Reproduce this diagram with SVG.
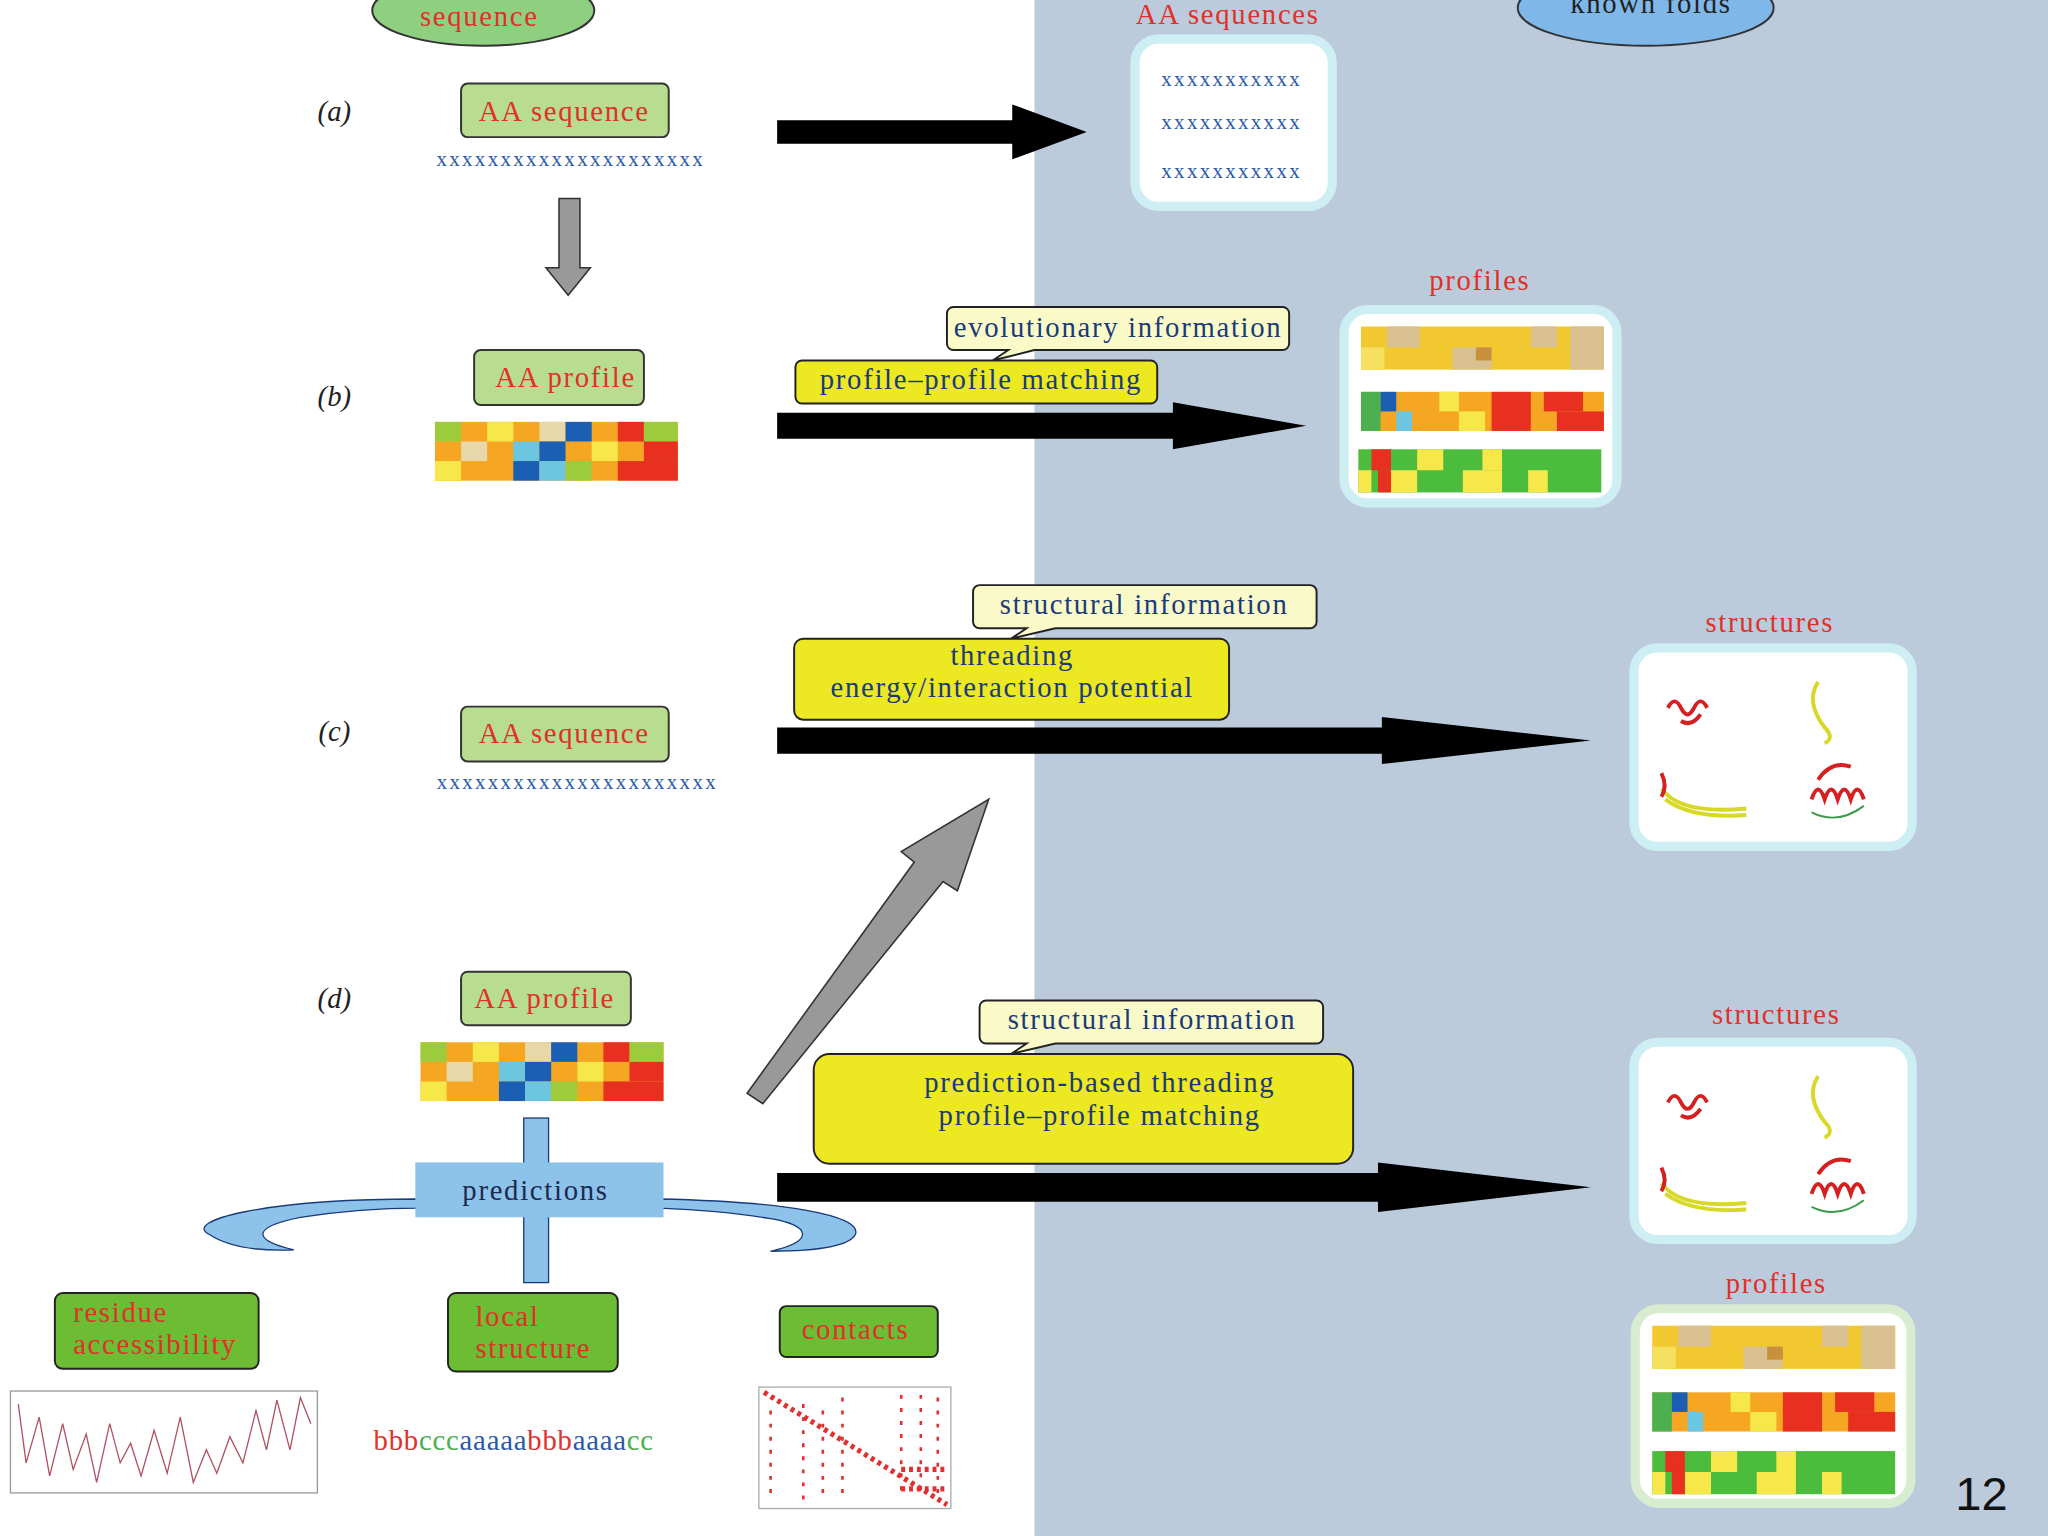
<svg xmlns="http://www.w3.org/2000/svg" width="2048" height="1536" viewBox="0 0 2048 1536">
<defs>
<style>
.t{font-family:"Liberation Serif",serif;font-size:22px;letter-spacing:1.3px;text-anchor:middle}
.r{fill:#e0302a}.b{fill:#1a3a78}
.lab{font-family:"Liberation Serif",serif;font-size:22px;font-style:italic;fill:#222;text-anchor:middle}
.xs{font-family:"Liberation Serif",serif;font-size:16px;letter-spacing:1.8px;fill:#2a5aa8;text-anchor:middle}
.lg{fill:#b8dc90;stroke:#333;stroke-width:1.5}
.dg{fill:#6cbc34;stroke:#222;stroke-width:1.5}
.py{fill:#fafac8;stroke:#222;stroke-width:1.5}
.yy{fill:#ece822;stroke:#222;stroke-width:1.5}
.wb{fill:#fff;stroke:#cdeff4;stroke-width:7}
.blk{fill:#000}
</style>
<g id="hmA">
<rect width="186" height="45" fill="#f5a623"/>
<rect x="0" y="0" width="20" height="15" fill="#9ccc3c"/><rect x="40" y="0" width="20" height="15" fill="#f6e84a"/><rect x="80" y="0" width="20" height="15" fill="#e8d7a8"/><rect x="100" y="0" width="20" height="15" fill="#1a5fb4"/><rect x="140" y="0" width="20" height="15" fill="#e83020"/><rect x="160" y="0" width="26" height="15" fill="#9ccc3c"/>
<rect x="20" y="15" width="20" height="15" fill="#e8d7a8"/><rect x="60" y="15" width="20" height="15" fill="#6cc6e0"/><rect x="80" y="15" width="20" height="15" fill="#1a5fb4"/><rect x="120" y="15" width="20" height="15" fill="#f6e84a"/><rect x="160" y="15" width="26" height="15" fill="#e83020"/>
<rect x="0" y="30" width="20" height="15" fill="#f6e84a"/><rect x="60" y="30" width="20" height="15" fill="#1a5fb4"/><rect x="80" y="30" width="20" height="15" fill="#6cc6e0"/><rect x="100" y="30" width="20" height="15" fill="#9ccc3c"/><rect x="140" y="30" width="46" height="15" fill="#e83020"/>
</g>
<g id="hmT"><rect width="186" height="33" fill="#f2c830"/><rect x="20" y="0" width="25" height="16" fill="#d8c090"/><rect x="70" y="16" width="30" height="17" fill="#d8c090"/><rect x="88" y="16" width="12" height="10" fill="#c8903a"/><rect x="130" y="0" width="20" height="16" fill="#d8c090"/><rect x="160" y="0" width="26" height="33" fill="#d8c090"/><rect x="0" y="16" width="18" height="17" fill="#f6e060"/></g>
<g id="hmM"><rect width="186" height="30" fill="#f5a623"/><rect x="0" y="0" width="15" height="30" fill="#4caf50"/><rect x="15" y="0" width="12" height="15" fill="#1a5fb4"/><rect x="27" y="15" width="12" height="15" fill="#6cc6e0"/><rect x="60" y="0" width="15" height="15" fill="#f6e84a"/><rect x="100" y="0" width="30" height="30" fill="#e83020"/><rect x="140" y="0" width="30" height="15" fill="#e83020"/><rect x="150" y="15" width="36" height="15" fill="#e83020"/><rect x="75" y="15" width="20" height="15" fill="#f6e84a"/></g>
<g id="hmG"><rect width="186" height="33" fill="#4cbc3c"/><rect x="10" y="0" width="15" height="16" fill="#e83020"/><rect x="25" y="16" width="20" height="17" fill="#f6e84a"/><rect x="45" y="0" width="20" height="16" fill="#f6e84a"/><rect x="80" y="16" width="30" height="17" fill="#f6e84a"/><rect x="95" y="0" width="15" height="16" fill="#f6e84a"/><rect x="130" y="16" width="15" height="17" fill="#f6e84a"/><rect x="0" y="16" width="10" height="17" fill="#f6e84a"/><rect x="15" y="16" width="10" height="17" fill="#e83020"/></g>
<g id="prot" fill="none" stroke-width="3">
<path d="M30 30 q5 -10 10 0 q5 10 10 0 q5 -10 10 0 M40 40 q8 5 15 -5" stroke="#d42020"/>
<path d="M145 10 q-10 15 5 35 q8 8 0 12" stroke="#d8d828"/>
<path d="M25 92 q15 20 65 15 M28 100 q20 15 62 12" stroke="#d8d828"/><path d="M25 80 q5 10 0 18" stroke="#d42020"/>
<path d="M140 100 q5 -15 10 0 q5 -15 10 0 q5 -15 10 0 q5 -15 10 0 M145 85 q10 -15 25 -10" stroke="#d42020"/><path d="M140 110 q20 10 40 -5" stroke="#3a9a4a" stroke-width="1.5"/>
</g>
</defs>
<g transform="scale(1.30612)">
<rect x="0" y="0" width="792" height="1176" fill="#fff"/>
<rect x="792" y="0" width="776" height="1176" fill="#bccbdc"/>

<g id="top-left"><ellipse cx="370" cy="8" rx="85" ry="27" fill="#8fcf80" stroke="#333" stroke-width="1.5"/><text x="367" y="20" class="t r">sequence</text></g>
<g id="top-right"><ellipse cx="1260" cy="6" rx="98" ry="29" fill="#7fb8e8" stroke="#333" stroke-width="1.5"/><text x="1264" y="10" class="t" fill="#222">known folds</text></g>
<text x="940" y="18" class="t r">AA sequences</text>

<g id="row-a">
<text x="256" y="93" class="lab">(a)</text>
<g id="a-seq"><rect x="353" y="64" width="159" height="41" rx="5" class="lg"/><text x="432" y="93" class="t r">AA sequence</text></g>
<text x="437" y="127" class="xs">xxxxxxxxxxxxxxxxxxxxx</text>
<g id="a-db"><rect x="869" y="30" width="151" height="128" rx="18" class="wb"/><text x="943" y="66" class="xs">xxxxxxxxxxx</text><text x="943" y="99" class="xs">xxxxxxxxxxx</text><text x="943" y="136" class="xs">xxxxxxxxxxx</text></g>
</g>

<g id="row-b">
<text x="256" y="311" class="lab">(b)</text>
<g id="b-prof"><rect x="363" y="268" width="130" height="42" rx="5" class="lg"/><text x="433" y="296" class="t r">AA profile</text></g>
<use href="#hmA" x="333" y="323"/>
<g id="b-evo"><path d="M730 235 h252 a5 5 0 0 1 5 5 v23 a5 5 0 0 1 -5 5 h-190 l-32 8 l12 -8 h-42 a5 5 0 0 1 -5 -5 v-23 a5 5 0 0 1 5 -5 z" class="py"/><text x="856" y="258" class="t b">evolutionary information</text></g>
<g id="b-ppm"><rect x="609" y="276" width="277" height="33" rx="5" class="yy"/><text x="751" y="298" class="t b">profile–profile matching</text></g>
<text x="1133" y="222" class="t r">profiles</text>
<g id="b-db"><rect x="1029" y="237" width="209" height="148" rx="18" class="wb"/><use href="#hmT" x="1042" y="250"/><use href="#hmM" x="1042" y="300"/><use href="#hmG" x="1040" y="344"/></g>
</g>

<g id="row-c">
<text x="256" y="567" class="lab">(c)</text>
<g id="c-seq"><rect x="353" y="541" width="159" height="42" rx="5" class="lg"/><text x="432" y="569" class="t r">AA sequence</text></g>
<text x="442" y="604" class="xs">xxxxxxxxxxxxxxxxxxxxxx</text>
<g id="c-str"><path d="M750 448 h253 a5 5 0 0 1 5 5 v23 a5 5 0 0 1 -5 5 h-195 l-34 8 l12 -8 h-36 a5 5 0 0 1 -5 -5 v-23 a5 5 0 0 1 5 -5 z" class="py"/><text x="876" y="470" class="t b">structural information</text></g>
<g id="c-thr"><rect x="608" y="489" width="333" height="62" rx="7" class="yy"/><text x="775" y="509" class="t b">threading</text><text x="775" y="534" class="t b">energy/interaction potential</text></g>
<text x="1355" y="484" class="t r">structures</text>
<g id="c-db"><rect x="1251" y="496" width="213" height="152" rx="18" class="wb"/><use href="#prot" x="1247" y="512"/></g>
</g>

<g id="row-d">
<text x="256" y="772" class="lab">(d)</text>
<g id="d-prof"><rect x="353" y="744" width="130" height="41" rx="5" class="lg"/><text x="417" y="772" class="t r">AA profile</text></g>
<use href="#hmA" x="322" y="798"/>
<g id="d-str"><path d="M755 766 h253 a5 5 0 0 1 5 5 v23 a5 5 0 0 1 -5 5 h-200 l-34 8 l12 -8 h-31 a5 5 0 0 1 -5 -5 v-23 a5 5 0 0 1 5 -5 z" class="py"/><text x="882" y="788" class="t b">structural information</text></g>
<g id="d-thr"><rect x="623" y="807" width="413" height="84" rx="12" class="yy"/><text x="842" y="836" class="t b">prediction-based threading</text><text x="842" y="861" class="t b">profile–profile matching</text></g>
<text x="1360" y="784" class="t r">structures</text>
<g id="d-db"><rect x="1251" y="798" width="213" height="151" rx="18" class="wb"/><use href="#prot" x="1247" y="814"/></g>
<text x="1360" y="990" class="t r">profiles</text>
<g id="d-db2"><rect x="1252" y="1002" width="211" height="149" rx="18" fill="#fff" stroke="#d8ecd0" stroke-width="7"/><use href="#hmT" x="1265" y="1015"/><use href="#hmM" x="1265" y="1066"/><use href="#hmG" x="1265" y="1111"/></g>
<g id="pred">
<path d="M320 918 C200 918 140 935 160 945 C175 955 200 958 225 957 C195 950 190 940 230 932 C270 926 300 925 320 925 z" fill="#8dc3ea" stroke="#1a3a78" stroke-width="1"/>
<path d="M505 918 C600 920 660 930 655 945 C650 955 620 958 590 958 C625 950 620 938 590 933 C560 928 530 926 505 925 z" fill="#8dc3ea" stroke="#1a3a78" stroke-width="1"/>
<rect x="401" y="856" width="19" height="126" fill="#8dc3ea" stroke="#1a3a78" stroke-width="1"/>
<rect x="318" y="890" width="190" height="42" fill="#8dc3ea"/><text x="410" y="919" class="t" fill="#1a2a50">predictions</text></g>
<g id="res"><rect x="42" y="990" width="156" height="58" rx="6" class="dg"/><text x="56" y="1012" class="t r" style="text-anchor:start">residue</text><text x="56" y="1037" class="t r" style="text-anchor:start">accessibility</text></g>
<g id="loc"><rect x="343" y="990" width="130" height="60" rx="6" class="dg"/><text x="364" y="1015" class="t r" style="text-anchor:start">local</text><text x="364" y="1040" class="t r" style="text-anchor:start">structure</text></g>
<g id="con"><rect x="597" y="1000" width="121" height="39" rx="5" class="dg"/><text x="655" y="1025" class="t r">contacts</text></g>
<g id="plot"><rect x="8" y="1065" width="235" height="78" fill="#fff" stroke="#999" stroke-width="1"/><polyline points="14,1075 20,1120 30,1085 38,1130 48,1090 56,1125 66,1098 74,1135 84,1090 92,1120 100,1105 108,1130 118,1095 128,1128 138,1085 148,1135 158,1110 166,1128 176,1100 186,1120 196,1080 204,1110 212,1072 222,1110 230,1070 238,1090" fill="none" stroke="#b05060" stroke-width="1"/></g>
<text x="286" y="1110" font-family="Liberation Serif,serif" font-size="22" letter-spacing="0.6"><tspan fill="#e0302a">bbb</tspan><tspan fill="#4caf50">ccc</tspan><tspan fill="#2a5aa8">aaaaa</tspan><tspan fill="#e0302a">bbb</tspan><tspan fill="#2a5aa8">aaaa</tspan><tspan fill="#4caf50">cc</tspan></text>
<g id="cmap"><rect x="581" y="1062" width="147" height="93" fill="#fff" stroke="#aaa"/><path d="M585 1066 L725 1152" stroke="#e03030" stroke-width="4" stroke-dasharray="3 3"/><path d="M590 1080 v70 M615 1075 v75 M630 1080 v70 M645 1070 v80 M690 1068 v80 M705 1068 v80 M718 1070 v80" stroke="#e03030" stroke-width="2" stroke-dasharray="3 7"/><path d="M690 1125 h35 M690 1140 h35" stroke="#e03030" stroke-width="4" stroke-dasharray="3 3"/></g>
</g>

<g id="connectors">
<path d="M595 92 h180 v-12 l57 21 l-57 21 v-12 h-180 z" class="blk"/>
<path d="M428 152 h16 v53 h8 l-17 21 l-17 -21 h10 z" fill="#999" stroke="#333" stroke-width="1.2"/>
<path d="M595 316 h303 v-8 l102 18 l-102 18 v-8 h-303 z" class="blk"/>
<path d="M595 557 h463 v-8 l160 18 l-160 18 v-8 h-463 z" class="blk"/>
<path d="M595 898 h460 v-8 l163 19 l-163 19 v-8 h-460 z" class="blk"/>
<path d="M572 837 L700 660 L690 652 L757 612 L733 682 L722 675 L584 845 z" fill="#999" stroke="#333" stroke-width="1.2"/>
</g>
<text x="1517" y="1156" font-family="Liberation Sans,sans-serif" font-size="36" fill="#111" text-anchor="middle">12</text>
</g>
</svg>
